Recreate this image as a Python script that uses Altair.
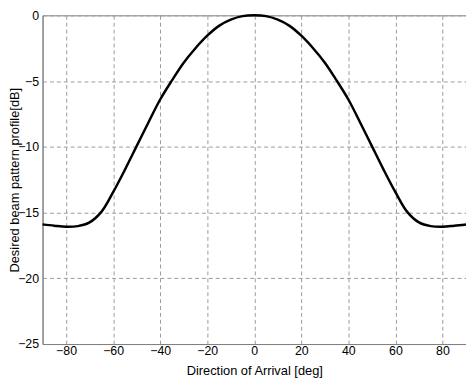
import altair as alt
import pandas as pd

# Direction of arrival (deg) and desired beam pattern (dB)
angles = [-90, -85, -80, -75, -70, -65, -60, -55, -50, -45, -40, -35, -30, -25, -20, -15, -10, -5,
          0, 5, 10, 15, 20, 25, 30, 35, 40, 45, 50, 55, 60, 65, 70, 75, 80, 85, 90]
gain_db = [-15.9, -16.0, -16.08, -16.03, -15.75, -14.95, -13.45, -11.75, -9.95, -8.15, -6.4, -4.95,
           -3.6, -2.5, -1.55, -0.8, -0.33, -0.06,
           0.0, -0.06, -0.33, -0.8, -1.55, -2.5, -3.6, -4.95, -6.4, -8.15, -9.95, -11.75,
           -13.45, -14.95, -15.75, -16.03, -16.08, -16.0, -15.9]

x_ticks = [-80, -60, -40, -20, 0, 20, 40, 60, 80]
y_ticks = [0, -5, -10, -15, -20, -25]

df = pd.DataFrame({"angle": angles, "gain": gain_db})

FONT = "Liberation Sans"

common = dict(grid=True, gridDash=[4, 3], gridColor="#9a9a9a", gridWidth=1,
              ticks=False, domainColor="#808080", labelFontSize=12.5, titleFontSize=13,
              labelColor="black", titleColor="black", titleFontWeight="normal",
              labelFont=FONT, titleFont=FONT, labelFlush=False)

chart = alt.Chart(df).mark_line(
    color="black", strokeWidth=2.5, interpolate="catmull-rom"
).encode(
    x=alt.X("angle:Q",
            scale=alt.Scale(domain=[-90, 90], nice=False, zero=False),
            axis=alt.Axis(values=x_ticks, title="Direction of Arrival [deg]",
                          labelPadding=1, titleY=27, titleBaseline="middle", **common)),
    y=alt.Y("gain:Q",
            scale=alt.Scale(domain=[-25, 0], nice=False, zero=False),
            axis=alt.Axis(values=y_ticks, title="Desired beam pattern profile[dB]",
                          labelPadding=4, titleX=-21, **common)),
).properties(
    width=429, height=333,
    autosize=alt.AutoSizeParams(type="none"),
    padding={"left": 35, "top": 5, "right": 0, "bottom": 34},
).configure_view(
    stroke="#808080", strokeWidth=1
)

chart.save("out.html", embed_options={"renderer": "svg", "actions": False})
